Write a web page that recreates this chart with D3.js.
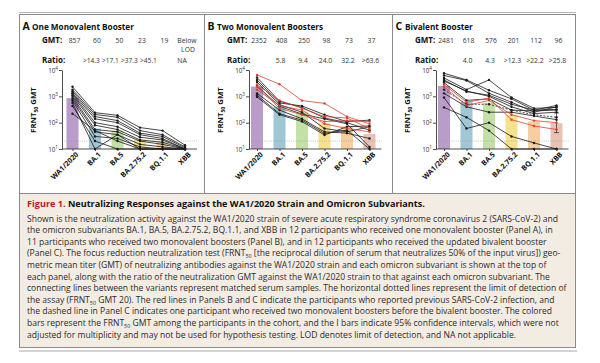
<!DOCTYPE html>
<html><head><meta charset="utf-8">
<script src="https://cdn.jsdelivr.net/npm/d3@7"></script>
<style>body{margin:0;background:#fff} svg{display:block}</style>
</head><body>
<svg id="c" width="600" height="363"></svg>
<script>
// ---------------- DATA ----------------
const categories = ["WA1/2020","BA.1","BA.5","BA.2.75.2","BQ.1.1","XBB"];
const panelLetters = ["A","B","C"];
const panelTitles = ["One Monovalent Booster","Two Monovalent Boosters","Bivalent Booster"];
const gmtLabelsA = ["857","60","50","23","19","Below|LOD"];
const gmtLabelsB = ["2352","408","250","98","73","37"];
const gmtLabelsC = ["2481","618","576","201","112","96"];
const ratioA = ["",">14.3",">17.1",">37.3",">45.1","NA"];
const ratioB = ["","5.8","9.4","24.0","32.2",">63.6"];
const ratioC = ["","4.0","4.3",">12.3",">22.2",">25.8"];
const barA = [857,60,50,23,19,null];
const barB = [2352,408,250,98,73,37];
const barC = [2481,618,576,201,112,96];
const ciC = [null,null,null,null,null,[42,235]];
const yTicks = [10,100,1000,10000];
const yTickExp = ["1","2","3","4"];
const lod = 20;
const barColors = ["#b99cca","#a0c7d6","#c4e0a6","#f6e28c","#f6cea0","#e6c3b4"];

const participantsA = [
  [2300,240,190,65,50,14],
  [1800,205,160,50,35,12],
  [1550,170,120,40,30,11],
  [1350,140,100,35,25,10],
  [1250,100,70,28,22,10],
  [1100,80,55,22,18,10],
  [950,55,45,20,15,10],
  [800,45,35,15,12,10],
  [680,30,25,12,10,10],
  [560,10,35,10,10,10],
  [430,20,10,10,10,10],
  [220,50,20,10,10,10]
];
const groupA = ["k","k","k","k","k","k","k","k","k","k","k","k"];

const participantsB = [
  [6500,2900,690,540,170,90],
  [2800,700,350,170,150,60],
  [2300,350,200,110,120,110],
  [1800,450,300,90,60,45],
  [5200,650,380,150,100,52],
  [4200,560,430,200,110,125],
  [3500,480,250,60,45,70],
  [2500,420,210,140,90,12],
  [1300,300,140,45,40,25],
  [1100,220,125,39,52,10],
  [950,200,110,34,70,75]
];
const groupB = ["r","r","r","r","k","k","k","k","k","k","k"];

const participantsC = [
  [7500,4200,1700,800,300,450],
  [6200,4000,1300,600,250,400],
  [5000,1800,4200,900,350,380],
  [4200,1500,1100,500,300,320],
  [3800,1600,1000,400,220,250],
  [3300,700,800,300,280,300],
  [2800,600,850,130,75,55],
  [2300,450,700,200,120,100],
  [1800,500,500,300,200,160],
  [1300,400,250,250,180,130],
  [900,60,100,30,17,10],
  [380,160,50,10,10,10]
];
const groupC = ["k","k","k","k","k","k","r","r","d","k","k","k"];

const captionTitleRed = "Figure 1.";
const captionTitle = " Neutralizing Responses against the WA1/2020 Strain and Omicron Subvariants.";
const captionLines = [
  "Shown is the neutralization activity against the WA1/2020 strain of severe acute respiratory syndrome coronavirus 2 (SARS-CoV-2) and",
  "the omicron subvariants BA.1, BA.5, BA.2.75.2, BQ.1.1, and XBB in 12 participants who received one monovalent booster (Panel A), in",
  "11 participants who received two monovalent boosters (Panel B), and in 12 participants who received the updated bivalent booster",
  "(Panel C). The focus reduction neutralization test (FRNT_50 [the reciprocal dilution of serum that neutralizes 50% of the input virus]) geo-",
  "metric mean titer (GMT) of neutralizing antibodies against the WA1/2020 strain and each omicron subvariant is shown at the top of",
  "each panel, along with the ratio of the neutralization GMT against the WA1/2020 strain to that against each omicron subvariant. The",
  "connecting lines between the variants represent matched serum samples. The horizontal dotted lines represent the limit of detection of",
  "the assay (FRNT_50 GMT 20). The red lines in Panels B and C indicate the participants who reported previous SARS-CoV-2 infection, and",
  "the dashed line in Panel C indicates one participant who received two monovalent boosters before the bivalent booster. The colored",
  "bars represent the FRNT_50 GMT among the participants in the cohort, and the I bars indicate 95% confidence intervals, which were not",
  "adjusted for multiplicity and may not be used for hypothesis testing. LOD denotes limit of detection, and NA not applicable."
];

// ---------------- DRAW ----------------
const FONT = "'Open Sans', Lato, sans-serif";
const svg = d3.select("#c").style("font-family", FONT);

// frame & caption box
svg.append("rect").attr("x",19).attr("y",193).attr("width",556).attr("height",154).attr("fill","#f3ece3");
svg.append("line").attr("x1",19).attr("x2",576).attr("y1",12.5).attr("y2",12.5).attr("stroke","#b5b5b5").attr("stroke-width",1.2);
svg.append("rect").attr("x",19.5).attr("y",14.5).attr("width",556).attr("height",333)
  .attr("fill","none").attr("stroke","#8a8a8a").attr("stroke-width",1);
[204.5,392.5].forEach(xx=>svg.append("line").attr("x1",xx).attr("x2",xx).attr("y1",14.5).attr("y2",193)
  .attr("stroke","#8a8a8a"));
svg.append("line").attr("x1",19.5).attr("x2",575.5).attr("y1",193.5).attr("y2",193.5).attr("stroke","#8a8a8a");
svg.append("line").attr("x1",19).attr("x2",577).attr("y1",351).attr("y2",351).attr("stroke","#c4c4c4").attr("stroke-width",1.5);

const panels = [
  {letter:panelLetters[0], title:panelTitles[0], gmt:gmtLabelsA, ratio:ratioA, bars:barA, parts:participantsA, grp:groupA, ci:null,
   left:19, axisX:62, firstX:72.5, packRatio:true},
  {letter:panelLetters[1], title:panelTitles[1], gmt:gmtLabelsB, ratio:ratioB, bars:barB, parts:participantsB, grp:groupB, ci:null,
   left:204, axisX:249, firstX:257, packRatio:false},
  {letter:panelLetters[2], title:panelTitles[2], gmt:gmtLabelsC, ratio:ratioC, bars:barC, parts:participantsC, grp:groupC, ci:ciC,
   left:392, axisX:436, firstX:444, packRatio:false}
];
const STEP = 22.5;
const y = d3.scaleLog().domain([10,10000]).range([149,70]);

panels.forEach(p=>{
  const g = svg.append("g");
  const x = d3.scalePoint().domain(categories).range([p.firstX, p.firstX + STEP*(categories.length-1)]);
  const lastX = x(categories[categories.length-1]);

  // titles
  g.append("text").attr("x",p.left+3.5).attr("y",30).attr("font-size",10.5).attr("font-weight",700).attr("fill","#111").text(p.letter);
  g.append("text").attr("x",p.left+13).attr("y",29.5).attr("font-size",8.2).attr("font-weight",700).attr("fill","#111").text(p.title);
  g.append("text").attr("x",p.left+23).attr("y",43).attr("font-size",8).attr("font-weight",700).attr("fill","#111").text("GMT:");
  g.append("text").attr("x",p.left+23).attr("y",63).attr("font-size",8).attr("font-weight",700).attr("fill","#111").text("Ratio:");

  // GMT values
  p.gmt.forEach((s,i)=>{
    const parts = s.split("|");
    const t = g.append("text").attr("x",x(categories[i])+2).attr("y",43).attr("font-size",6.8)
      .attr("text-anchor","middle").attr("fill","#333");
    parts.forEach((ln,j)=>t.append("tspan").attr("x",x(categories[i])+2 + (j? 1:0)).attr("dy", j?8.6:0).text(ln));
  });
  // Ratio values
  if (p.packRatio) {
    let cursor = x(categories[1]) - 12;
    p.ratio.forEach((s,i)=>{
      if(!s) return;
      if (i === categories.length-1) {
        g.append("text").attr("x",x(categories[i])-3).attr("y",63).attr("font-size",6.8).attr("text-anchor","middle").attr("fill","#333").text(s);
        return;
      }
      const t = g.append("text").attr("x",cursor).attr("y",63).attr("font-size",6.6).attr("fill","#333").text(s);
      cursor += t.node().getComputedTextLength() + 2.2;
    });
  } else {
    p.ratio.forEach((s,i)=>{
      if(!s) return;
      g.append("text").attr("x",x(categories[i])+1).attr("y",63).attr("font-size",6.8).attr("text-anchor","middle").attr("fill","#333").text(s);
    });
  }

  // bars
  p.bars.forEach((v,i)=>{
    if (v==null) return;
    g.append("rect").attr("x",x(categories[i])-6).attr("width",12)
      .attr("y",y(v)).attr("height",y(10)-y(v)).attr("fill",barColors[i]);
  });

  // LOD dotted line
  g.append("line").attr("x1",p.axisX).attr("x2",lastX+12).attr("y1",y(lod)).attr("y2",y(lod))
    .attr("stroke","#9a9a9a").attr("stroke-width",0.6).attr("stroke-dasharray","1,1.2");

  // CI bars
  if (p.ci) p.ci.forEach((c,i)=>{
    if(!c) return;
    const cx = x(categories[i]);
    g.append("line").attr("x1",cx).attr("x2",cx).attr("y1",y(c[0])).attr("y2",y(c[1])).attr("stroke","#222").attr("stroke-width",0.7);
    [c[0],c[1]].forEach(v=>g.append("line").attr("x1",cx-2.5).attr("x2",cx+2.5).attr("y1",y(v)).attr("y2",y(v)).attr("stroke","#222").attr("stroke-width",0.7));
  });

  // participant lines
  const line = d3.line().x((d,i)=>x(categories[i])).y(d=>y(d));
  const order = ["k","d","r"];
  order.forEach(kind=>{
    p.parts.forEach((vals,j)=>{
      if (p.grp[j]!==kind) return;
      const col = kind==="r" ? "#d8412f" : "#1a1a1a";
      g.append("path").datum(vals).attr("d",line).attr("fill","none").attr("stroke",col)
        .attr("stroke-width",0.8).attr("stroke-dasharray", kind==="d" ? "2,1.5" : null);
      g.selectAll(null).data(vals).enter().append("circle")
        .attr("cx",(d,i)=>x(categories[i])).attr("cy",d=>y(d)).attr("r",1.2).attr("fill",col);
    });
  });

  // y axis
  const ya = g.append("g").attr("transform",`translate(${p.axisX},0)`)
    .call(d3.axisLeft(y).tickValues(yTicks).tickFormat("").tickSize(3).tickSizeOuter(0));
  ya.select(".domain").attr("stroke","#222").attr("stroke-width",0.8);
  ya.selectAll(".tick line").attr("stroke","#222").attr("stroke-width",0.8);
  yTicks.forEach((v,i)=>{
    const t = g.append("text").attr("x",p.axisX-4).attr("y",y(v)+2.5).attr("text-anchor","end")
      .attr("font-size",6.3).attr("fill","#333");
    t.append("tspan").text("10");
    t.append("tspan").attr("dy",-2.6).attr("font-size",4.6).text(yTickExp[i]);
  });
  // y title
  const yt = g.append("text").attr("transform",`translate(${p.axisX-26},110) rotate(-90)`)
    .attr("text-anchor","middle").attr("font-size",7.8).attr("font-weight",700).attr("fill","#111");
  yt.append("tspan").text("FRNT");
  yt.append("tspan").attr("dy",2).attr("font-size",5.2).text("50");
  yt.append("tspan").attr("dy",-2).text(" GMT");

  // x axis
  const xa = g.append("g").attr("transform",`translate(0,${y(10)})`)
    .call(d3.axisBottom(x).tickSize(2).tickSizeOuter(0));
  xa.select(".domain").remove();
  xa.selectAll(".tick line").attr("stroke","#222").attr("stroke-width",0.8);
  xa.selectAll(".tick text").attr("font-family",FONT).attr("font-size",7.2).attr("font-weight",700).attr("fill","#111")
    .attr("text-anchor","end").attr("dy",0).attr("y",0)
    .attr("transform","translate(6,6) rotate(-45)");
  g.append("line").attr("x1",p.axisX).attr("x2",lastX+12).attr("y1",y(10)).attr("y2",y(10)).attr("stroke","#222").attr("stroke-width",0.8);
});

// caption
const cap = svg.append("g");
const tt = cap.append("text").attr("x",27).attr("y",207).attr("font-size",9.1).attr("font-weight",700).attr("fill","#111");
tt.append("tspan").attr("fill","#c4161c").text(captionTitleRed);
tt.append("tspan").text(captionTitle);
captionLines.forEach((ln,i)=>{
  const t = cap.append("text").attr("x",27).attr("y",221.5 + i*11.6).attr("font-size",8.55).attr("fill","#2b2b2b");
  const segs = ln.split("_50");
  segs.forEach((s,k)=>{
    if (k>0) {
      t.append("tspan").attr("dy",1.8).attr("font-size",5.4).text("50");
      t.append("tspan").attr("dy",-1.8).text(s);
    } else t.append("tspan").text(s);
  });
});
</script>
</body></html>
